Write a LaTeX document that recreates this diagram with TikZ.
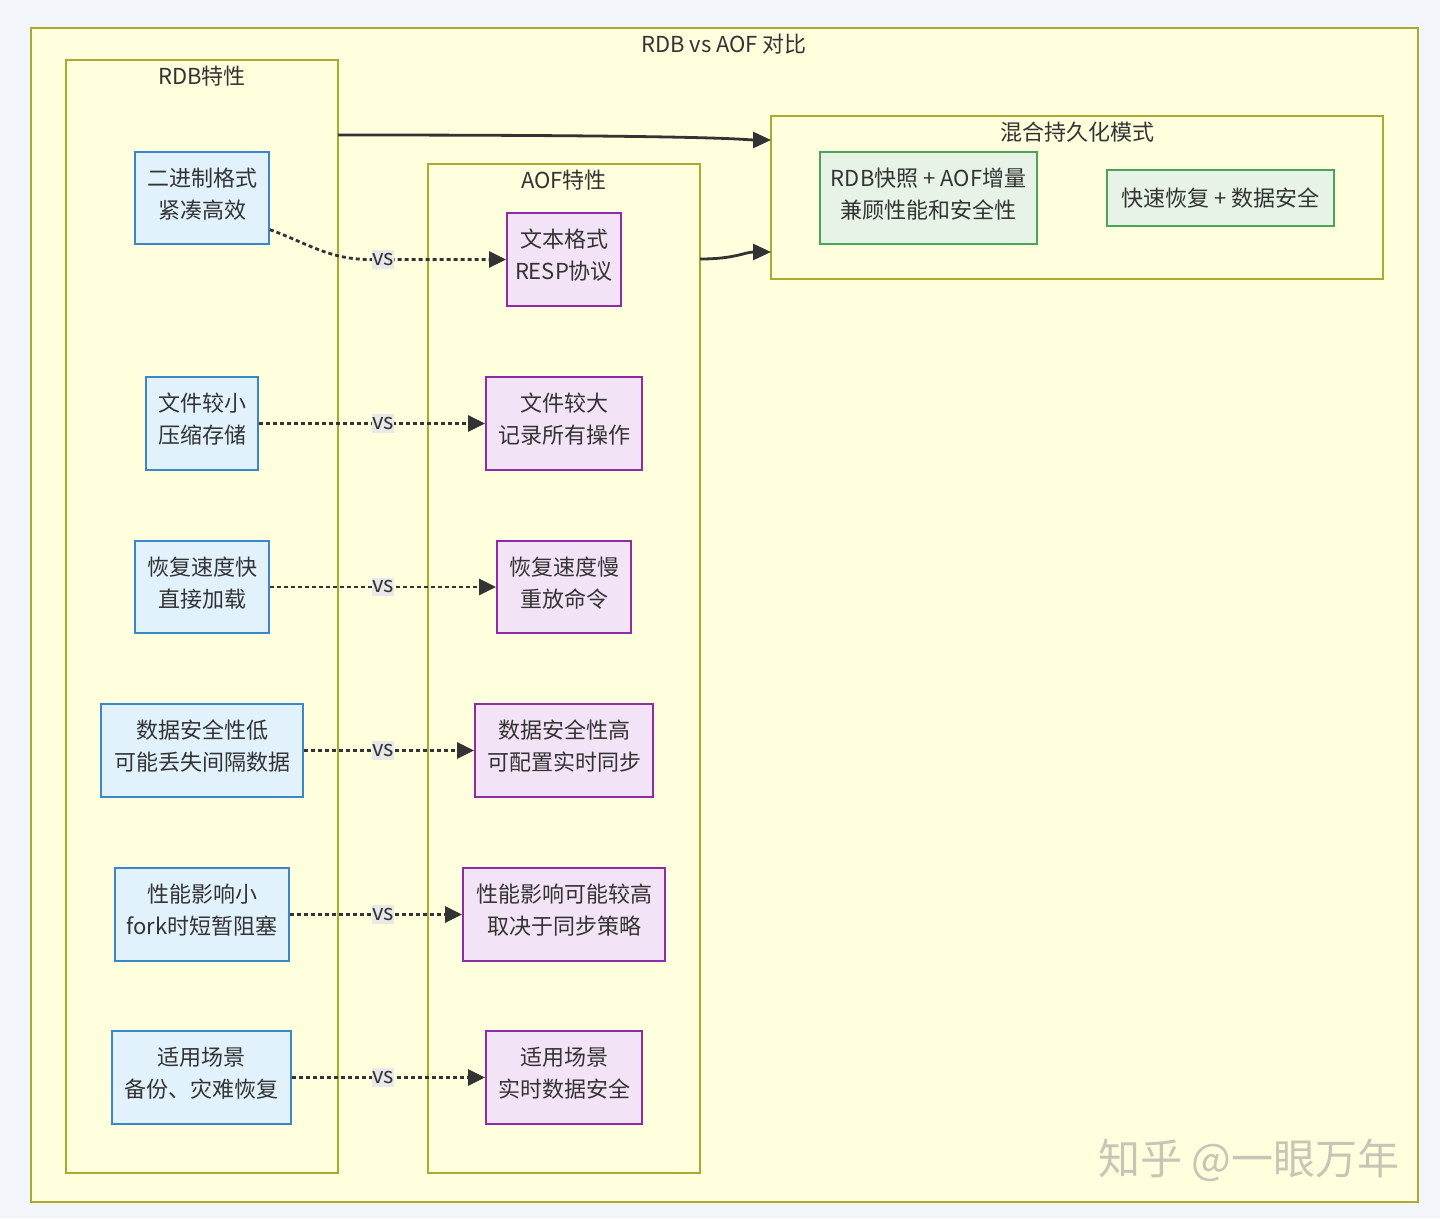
\documentclass[tikz,border=0pt]{standalone}
\usepackage{fontspec}
\setmainfont{Noto Sans CJK SC}
\usepackage{tikz}
\usetikzlibrary{arrows.meta}

\definecolor{pagebg}{HTML}{F2F5F9}
\definecolor{clusterfill}{HTML}{FFFFDE}
\definecolor{clusterline}{HTML}{AAAA33}
\definecolor{rdbfill}{HTML}{E1F2FD}
\definecolor{rdbline}{HTML}{3A86C8}
\definecolor{aoffill}{HTML}{F3E3F6}
\definecolor{aofline}{HTML}{8E2BA8}
\definecolor{mixfill}{HTML}{E6F3E6}
\definecolor{mixline}{HTML}{4CA35A}
\definecolor{ink}{HTML}{333333}
\definecolor{vsbg}{HTML}{E8E8E8}
\definecolor{wmgray}{HTML}{C6C6B6}

\begin{document}
\begin{tikzpicture}[x=1pt,y=-1pt,
	font=\fontsize{22}{32}\selectfont,
	cluster/.style={draw=clusterline,fill=clusterfill,line width=1.6pt},
	title/.style={text=ink,inner sep=0pt},
	box/.style={rectangle,align=center,text=ink,line width=1.8pt,inner sep=0pt},
	twoline/.style={text height=52pt,text depth=11.2pt},
	rdbbox/.style={box,twoline,draw=rdbline,fill=rdbfill},
	aofbox/.style={box,twoline,draw=aofline,fill=aoffill},
	mixbox/.style={box,draw=mixline,fill=mixfill},
	vsline/.style={draw=ink,line width=2.8pt,dash pattern=on 4pt off 3pt,-{Triangle[length=17pt,width=16pt]}},
	vslabel/.style={fill=vsbg,text=ink,inner xsep=0.5pt,inner ysep=3pt,font=\fontsize{22}{24}\selectfont},
	mixarrow/.style={draw=ink,line width=2.8pt,-{Triangle[length=18pt,width=16pt]}}]
	\useasboundingbox (0,0) rectangle (1440,1218);
	\fill[pagebg] (0,0) rectangle (1440,1218);
	
	% outer frame
	\draw[cluster] (31,28) rectangle (1418,1202);
	\node[title] (maintitle) at (724,44) {RDB vs AOF 对比};
	
	\begin{scope}
	\draw[cluster] (66,60) rectangle (338,1173);
	\node[title] (rdbtitle) at (202,76) {RDB特性};
	\coordinate (rdbout) at (338,135);
	
	\node[rdbbox,minimum width=134,minimum height=92] (r1) at (202,198) {二进制格式\\紧凑高效};
	\node[rdbbox,minimum width=112,minimum height=93] (r2) at (202,423.5) {文件较小\\压缩存储};
	\node[rdbbox,minimum width=134,minimum height=92] (r3) at (202,587) {恢复速度快\\直接加载};
	\node[rdbbox,minimum width=202,minimum height=93] (r4) at (202,750.5) {数据安全性低\\可能丢失间隔数据};
	\node[rdbbox,minimum width=174,minimum height=93] (r5) at (202,914.5) {性能影响小\\fork时短暂阻塞};
	\node[rdbbox,minimum width=179,minimum height=93] (r6) at (201.5,1077.5) {适用场景\\备份、灾难恢复};
	\end{scope}
	
	\begin{scope}
	\draw[cluster] (428,164) rectangle (700,1173);
	\node[title] (aoftitle) at (564,180) {AOF特性};
	\coordinate (aofout) at (700,259);
	
	\node[aofbox,minimum width=114,minimum height=93] (a1) at (564,259.5) {文本格式\\RESP协议};
	\node[aofbox,minimum width=156,minimum height=93] (a2) at (564,423.5) {文件较大\\记录所有操作};
	\node[aofbox,minimum width=134,minimum height=92] (a3) at (564,587) {恢复速度慢\\重放命令};
	\node[aofbox,minimum width=178,minimum height=93] (a4) at (564,750.5) {数据安全性高\\可配置实时同步};
	\node[aofbox,minimum width=202,minimum height=93] (a5) at (564,914.5) {性能影响可能较高\\取决于同步策略};
	\node[aofbox,minimum width=156,minimum height=93] (a6) at (564,1077.5) {适用场景\\实时数据安全};
	\end{scope}
	
	\begin{scope}
	\draw[cluster] (771,116) rectangle (1383,279);
	\node[title] (mixtitle) at (1077,132) {混合持久化模式};
	\coordinate (mixin1) at (771,140);
	\coordinate (mixin2) at (771,252);
	
	\node[mixbox,twoline,minimum width=217,minimum height=92] (m1) at (928.5,198) {RDB快照 + AOF增量\\兼顾性能和安全性};
	\node[mixbox,minimum width=227,minimum height=56] (m2) at (1220.5,198) {快速恢复 + 数据安全};
	\end{scope}
	
	% vs connectors
	\draw[vsline] (r1.-25) to[out=-20,in=180] (370,259.5) -- (a1.west);
	\draw[vsline] (r2.east) -- (a2.west);
	\draw[vsline] (r3.east) -- (a3.west);
	\draw[vsline] (r4.east) -- (a4.west);
	\draw[vsline] (r5.east) -- (a5.west);
	\draw[vsline] (r6.east) -- (a6.west);
	\foreach \y [count=\i] in {259.5,423.5,587,750.5,914.5,1077.5}
		\node[vslabel] (vs\i) at (383,\y) {vs};
	
	\draw[mixarrow] (rdbout) .. controls (735,135) and (745,140) .. (mixin1);
	\draw[mixarrow] (aofout) .. controls (735,259) and (745,252) .. (mixin2);
	
	\node[text=wmgray,font=\fontsize{42}{42}\selectfont] (mark) at (1249,1160) {知乎 @一眼万年};
\end{tikzpicture}
\end{document}
